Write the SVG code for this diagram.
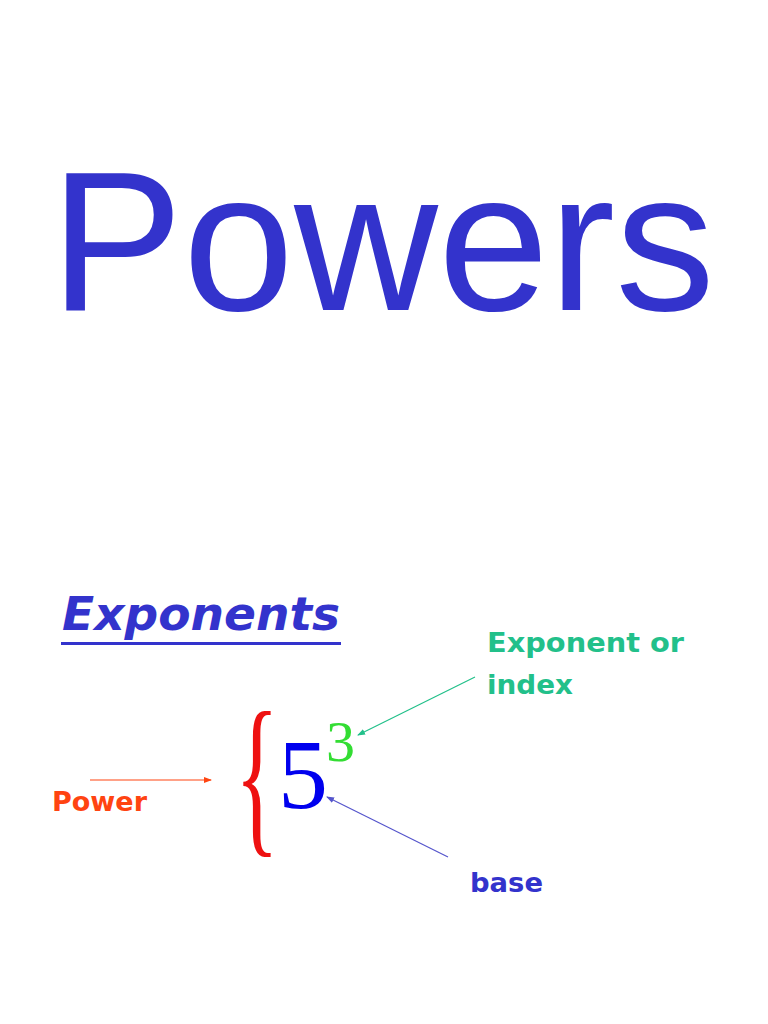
<svg xmlns="http://www.w3.org/2000/svg" width="768" height="1024" viewBox="0 0 768 1024">
<style>
.lbl{font-family:"DejaVu Sans","Liberation Sans",sans-serif;font-weight:bold}
.ser{font-family:"Liberation Serif","Times New Roman",serif}
</style>
<defs>
<marker id="ah-or" markerWidth="8" markerHeight="6" refX="7" refY="3" orient="auto" markerUnits="userSpaceOnUse"><path d="M0,0 L8,3 L0,6 z" fill="#ff4411"/></marker>
<marker id="ah-tl" markerWidth="8" markerHeight="6" refX="7" refY="3" orient="auto" markerUnits="userSpaceOnUse"><path d="M0,0 L8,3 L0,6 z" fill="#22c08a"/></marker>
<marker id="ah-bl" markerWidth="8" markerHeight="6" refX="7" refY="3" orient="auto" markerUnits="userSpaceOnUse"><path d="M0,0 L8,3 L0,6 z" fill="#5555cc"/></marker>
</defs>
<rect width="768" height="1024" fill="#fff"/>
<g id="title"><text x="50" y="310" font-family="Liberation Sans, Arial, sans-serif" font-size="198" fill="#3333cc" textLength="665" lengthAdjust="spacingAndGlyphs">Powers</text></g>
<g id="heading"><text class="lbl" x="62" y="630" font-size="46" font-style="italic" fill="#3333cc" textLength="278" lengthAdjust="spacingAndGlyphs">Exponents</text><rect x="61" y="642" width="280" height="3" fill="#3333cc"/></g>
<g id="expr">
<text class="ser" x="0" y="0" font-size="176" fill="#ee1111" transform="translate(235,833) scale(0.52,1)">{</text>
<text class="ser" x="278" y="808" font-size="100" fill="#0000ee">5</text>
<text class="ser" x="326" y="761" font-size="58" fill="#33dd33">3</text>
</g>
<g id="exponent-label"><text class="lbl" x="487" y="652" font-size="27" fill="#22c08a" textLength="197" lengthAdjust="spacingAndGlyphs">Exponent or</text><text class="lbl" x="487" y="694" font-size="27" fill="#22c08a" textLength="86" lengthAdjust="spacingAndGlyphs">index</text></g>
<g id="power-label"><text class="lbl" x="52" y="811" font-size="27" fill="#ff4411" textLength="95" lengthAdjust="spacingAndGlyphs">Power</text></g>
<g id="base-label"><text class="lbl" x="470" y="892" font-size="27" fill="#3333cc" textLength="73" lengthAdjust="spacingAndGlyphs">base</text></g>
<g id="connectors" stroke-width="1.2" fill="none">
<line x1="90" y1="780" x2="211" y2="780" stroke="#ff4411" marker-end="url(#ah-or)"/>
<line x1="475" y1="677" x2="358" y2="735" stroke="#22c08a" marker-end="url(#ah-tl)"/>
<line x1="448" y1="857" x2="327" y2="797" stroke="#5555cc" marker-end="url(#ah-bl)"/>
</g>
</svg>
